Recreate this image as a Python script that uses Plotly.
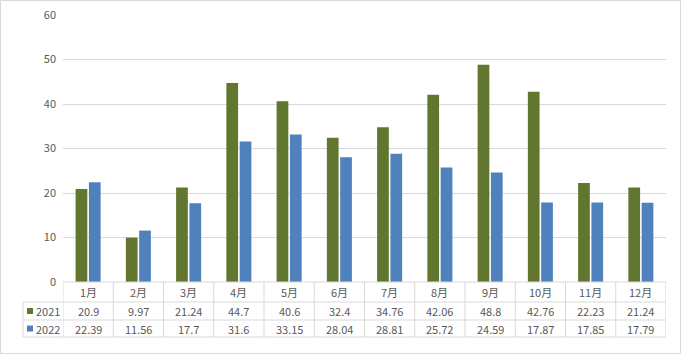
import plotly.graph_objects as go

months = ["1月", "2月", "3月", "4月", "5月", "6月", "7月", "8月", "9月", "10月", "11月", "12月"]
series_names = ["2021", "2022"]
v2021 = [20.9, 9.97, 21.24, 44.7, 40.6, 32.4, 34.76, 42.06, 48.8, 42.76, 22.23, 21.24]
v2022 = [22.39, 11.56, 17.7, 31.6, 33.15, 28.04, 28.81, 25.72, 24.59, 17.87, 17.85, 17.79]
y_ticks = [0, 10, 20, 30, 40, 50, 60]

colors = ["#61772F", "#4F81BD"]
grid = "#D9D9D9"
txt = "#595959"
FONT = "Noto Sans CJK SC"

W, H = 681, 354
L, R, T, B = 63, 15, 15, 72
pw, ph = W - L - R, H - T - B

def px2x(px):
    return (px - L) / pw

def py2y(py):
    return (H - B - py) / ph

fig = go.Figure()
for name, vals, c in zip(series_names, [v2021, v2022], colors):
    fig.add_trace(go.Bar(x=list(range(len(months))), y=vals, name=name,
                         marker=dict(color=c, line=dict(width=0))))

shapes = []
annots = []
row_lines = [302, 320, 337]
for ry in row_lines:
    shapes.append(dict(type="line", xref="paper", yref="paper", x0=px2x(23), x1=1,
                       y0=py2y(ry), y1=py2y(ry), line=dict(color=grid, width=1)))
shapes.append(dict(type="line", xref="paper", yref="paper", x0=0, x1=1,
                   y0=0, y1=0, line=dict(color=grid, width=1)))
shapes.append(dict(type="line", xref="paper", yref="paper", x0=px2x(23), x1=px2x(23),
                   y0=py2y(302), y1=py2y(337), line=dict(color=grid, width=1)))
for i in range(len(months) + 1):
    shapes.append(dict(type="line", xref="x", yref="paper", x0=i - 0.5, x1=i - 0.5,
                       y0=0, y1=py2y(337), line=dict(color=grid, width=1)))
for i, m in enumerate(months):
    annots.append(dict(x=i, y=py2y(292), xref="x", yref="paper", text=m, showarrow=False,
                       font=dict(family=FONT, size=11, color=txt), xanchor="center", yanchor="middle"))
for r, (name, vals, c) in enumerate(zip(series_names, [v2021, v2022], colors)):
    cy = 311 + r * 17.5
    for i, v in enumerate(vals):
        annots.append(dict(x=i, y=py2y(cy), xref="x", yref="paper", text=f"{v:g}", showarrow=False,
                           font=dict(family=FONT, size=11, color=txt), xanchor="center", yanchor="middle"))
    shapes.append(dict(type="rect", xref="paper", yref="paper", x0=px2x(27), x1=px2x(33),
                       y0=py2y(cy - 3), y1=py2y(cy + 3), fillcolor=c, line=dict(width=0)))
    annots.append(dict(x=px2x(34), y=py2y(cy), xref="paper", yref="paper", text=name, showarrow=False,
                       font=dict(family=FONT, size=11, color=txt), xanchor="left", yanchor="middle"))
shapes.append(dict(type="rect", xref="paper", yref="paper", x0=px2x(0.5), x1=px2x(680.5),
                   y0=py2y(353.5), y1=py2y(0.5), line=dict(color="#D9D9D9", width=1),
                   fillcolor="rgba(0,0,0,0)"))

fig.update_layout(
    width=W, height=H,
    margin=dict(l=L, r=R, t=T, b=B, pad=0, autoexpand=False),
    paper_bgcolor="white", plot_bgcolor="white",
    barmode="group", bargap=0.47, bargroupgap=0.12,
    showlegend=False,
    shapes=shapes, annotations=annots,
    font=dict(family=FONT, size=11, color=txt),
    xaxis=dict(range=[-0.5, len(months) - 0.5], showticklabels=False, showgrid=False,
               zeroline=False, showline=False, fixedrange=True, automargin=False),
    yaxis=dict(range=[0, 60], tickvals=y_ticks, showgrid=True, gridcolor=grid, gridwidth=1,
               zeroline=False, showline=False, ticks="", ticklabelstandoff=6, automargin=False,
               tickfont=dict(family=FONT, size=11, color=txt)),
)

fig.write_html("out.html")
